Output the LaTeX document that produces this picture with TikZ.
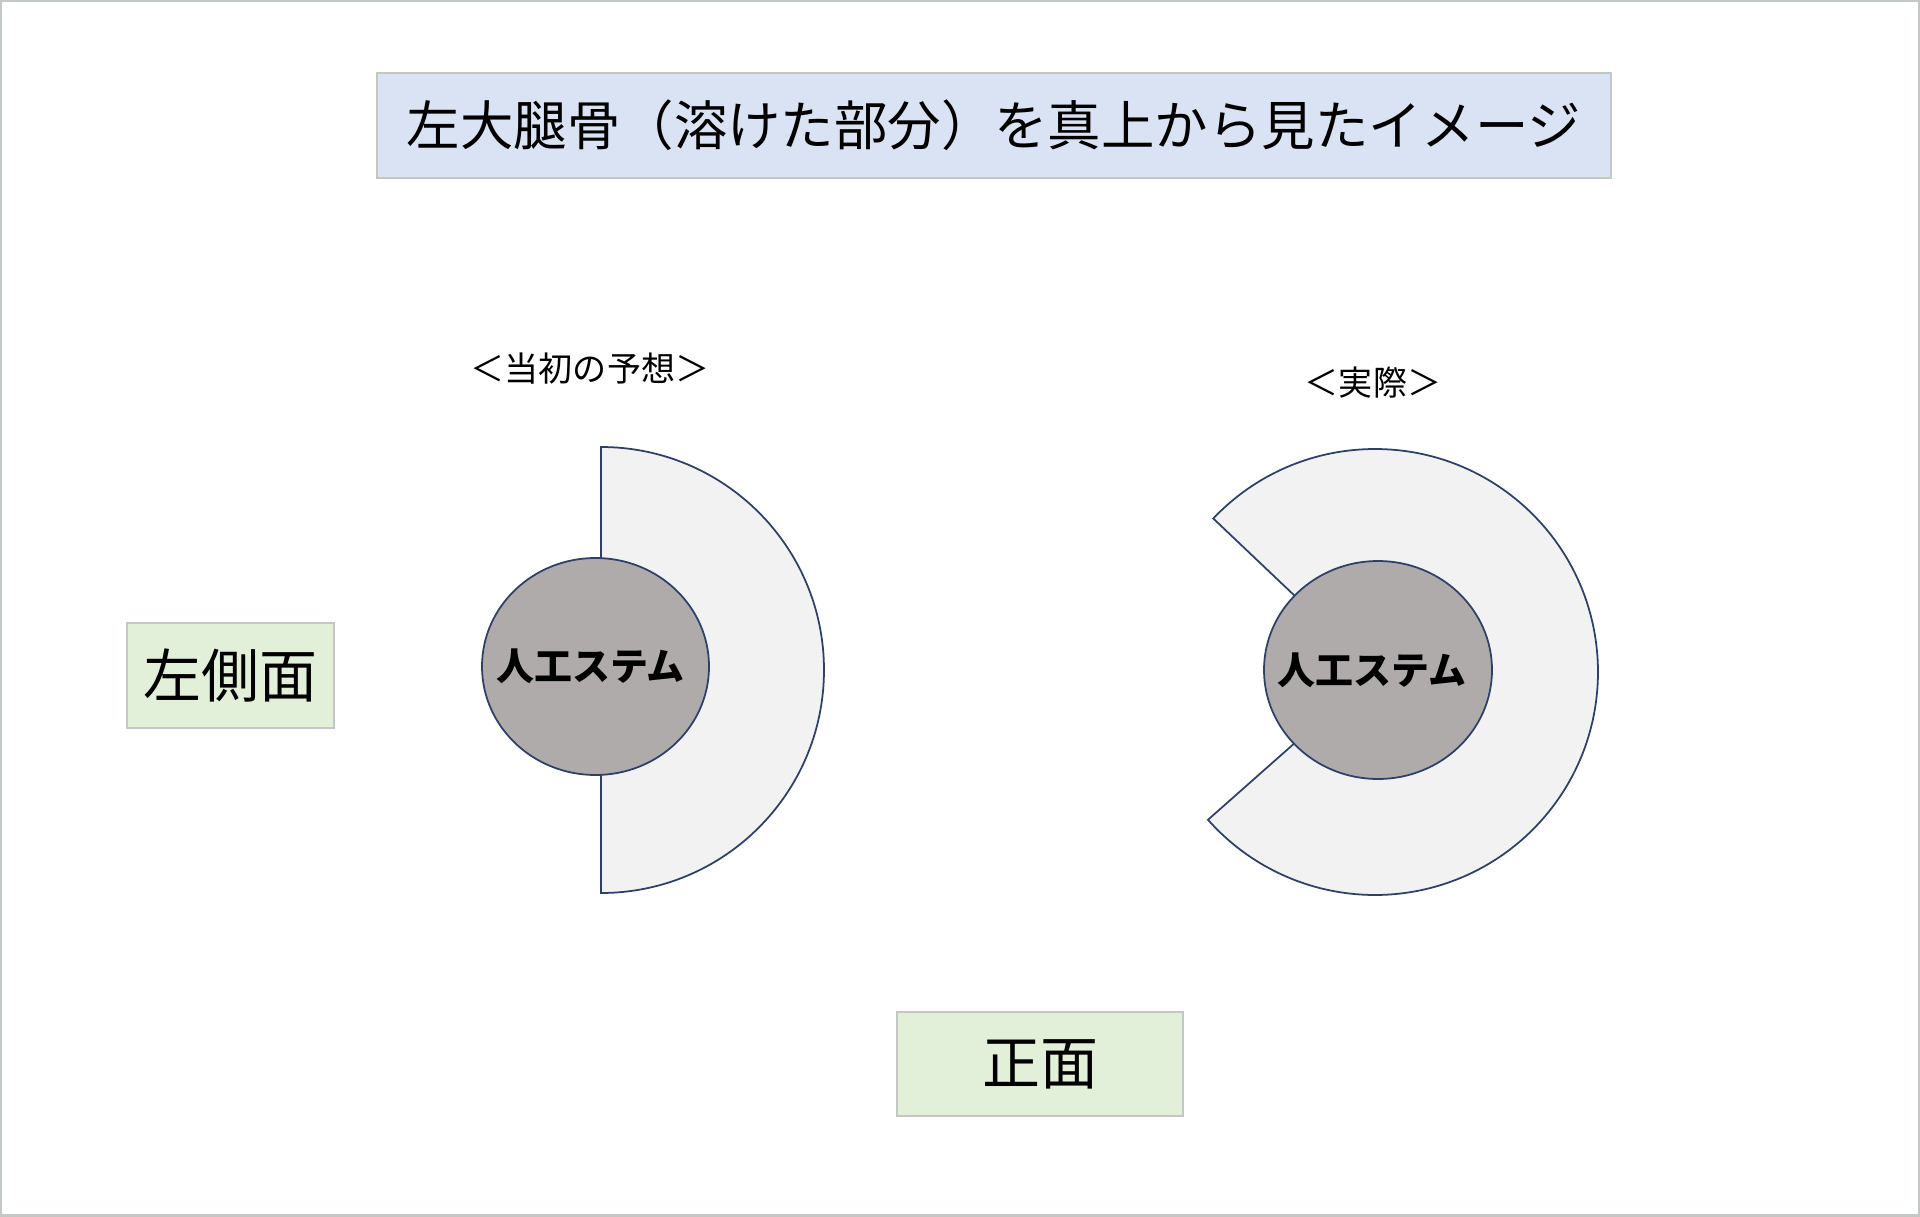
\documentclass[tikz,border=0pt]{standalone}
\usepackage{fontspec}
\setmainfont{Noto Sans CJK JP}
\usepackage{tikz}
\usetikzlibrary{shapes.geometric}
\definecolor{titlefill}{HTML}{DAE3F3}
\definecolor{viewfill}{HTML}{E2F0D9}
\definecolor{boxline}{HTML}{C4C8C4}
\definecolor{navy}{HTML}{2F3F66}
\definecolor{stemfill}{HTML}{AFABAB}
\definecolor{bonefill}{HTML}{F2F2F2}
\tikzstyle{titlebox} = [rectangle, draw=boxline, fill=titlefill, line width=0.5pt, minimum width=123.4mm, minimum height=10.5mm, inner sep=0pt, font=\fontsize{15.2pt}{18pt}\selectfont]
\tikzstyle{viewbox} = [rectangle, draw=boxline, fill=viewfill, line width=0.5pt, inner sep=0pt, font=\fontsize{16.5pt}{20pt}\selectfont]
\tikzstyle{caption} = [inner sep=0pt, font=\fontsize{9.7pt}{12pt}\selectfont]
\tikzstyle{stem} = [ellipse, draw=navy, fill=stemfill, line width=0.5pt, inner sep=0pt]
\tikzstyle{stem_text} = [inner sep=0pt, font=\fontsize{10.8pt}{13pt}\selectfont\bfseries]
\tikzstyle{bone} = [draw=navy, fill=bonefill, line width=0.5pt]

\begin{document}
\begin{tikzpicture}[x=0.1mm, y=0.1mm]
        \useasboundingbox (0,0) rectangle (1920,1216);
        \draw[boxline, line width=1pt] (0,0) rectangle (1920,1216);

        \node (title) [titlebox] at (994,1090.5) {左大腿骨（溶けた部分）を真上から見たイメージ};
        \node (side) [viewbox, minimum width=20.7mm, minimum height=10.5mm] at (230.5,540.5) {左側面};
        \node (front) [viewbox, minimum width=28.6mm, minimum height=10.4mm] at (1040,152) {正面};

        \node (expect_label) [caption] at (590,847) {＜当初の予想＞};
        \node (actual_label) [caption] at (1373,833) {＜実際＞};

        \coordinate (expect_c) at (601,546);
        \coordinate (actual_c) at (1375,544);

        \draw[bone] ([yshift=22.3mm]expect_c) arc[start angle=90, end angle=-90, radius=223] -- cycle;
        \draw[bone] ([shift={(136.5:95)}]actual_c) -- ([shift={(136.5:223)}]actual_c) arc[start angle=136.5, end angle=-138.5, radius=223] -- ([shift={(-138.5:95)}]actual_c) arc[start angle=-138.5, end angle=136.5, radius=95] -- cycle;

        \node (expect_stem) [stem, minimum width=22.7mm, minimum height=21.7mm] at (595.5,549.5) {};
        \node (actual_stem) [stem, minimum width=22.8mm, minimum height=21.8mm] at (1378,546) {};
        \node (expect_stem_text) [stem_text] at ([xshift=-0.5mm]expect_stem.center) {人工ステム};
        \node (actual_stem_text) [stem_text] at ([xshift=-0.6mm]actual_stem.center) {人工ステム};

    \end{tikzpicture}
\end{document}
